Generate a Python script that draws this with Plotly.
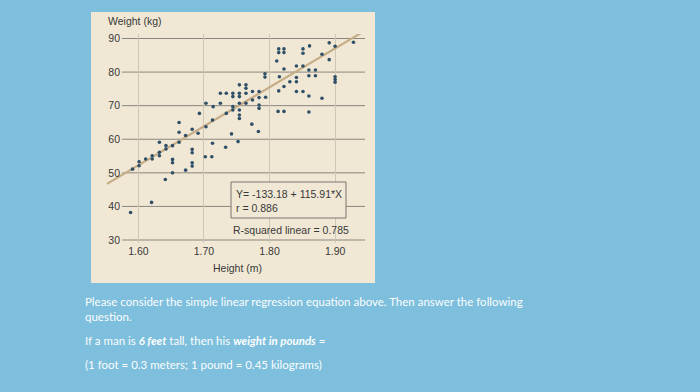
import plotly.graph_objects as go

# ---------------- data ----------------
height_m = [
    1.588, 1.620, 1.591, 1.601, 1.601, 1.611, 1.621, 1.621, 1.632, 1.632,
    1.632, 1.642, 1.642, 1.641, 1.652, 1.652, 1.652, 1.652, 1.662, 1.662,
    1.662, 1.672, 1.672, 1.682, 1.682, 1.682, 1.682, 1.682, 1.691, 1.693,
    1.703, 1.703, 1.702, 1.712, 1.713, 1.713, 1.714, 1.725, 1.725, 1.734,
    1.734, 1.733, 1.742, 1.744, 1.744, 1.744, 1.744, 1.754, 1.754, 1.754,
    1.754, 1.754, 1.754, 1.754, 1.752, 1.764, 1.764, 1.764, 1.764, 1.774,
    1.774, 1.773, 1.784, 1.784, 1.784, 1.784, 1.783, 1.794, 1.793, 1.793,
    1.814, 1.822, 1.814, 1.822, 1.811, 1.822, 1.815, 1.814, 1.822, 1.813,
    1.822, 1.831, 1.841, 1.841, 1.841, 1.841, 1.851, 1.851, 1.851, 1.851,
    1.861, 1.860, 1.860, 1.860, 1.860, 1.870, 1.870, 1.880, 1.880, 1.891,
    1.891, 1.900, 1.900, 1.900, 1.900, 1.928,
]
weight_kg = [
    38.2, 41.2, 51.1, 53.3, 52.1, 54.1, 55.1, 54.1, 59.1, 56.1,
    55.1, 58.1, 57.1, 48.0, 58.1, 54.0, 53.0, 50.0, 65.0, 62.1,
    59.1, 61.1, 50.8, 63.0, 57.0, 56.0, 53.0, 52.0, 61.8, 67.7,
    70.7, 63.7, 54.8, 54.8, 65.7, 58.8, 69.7, 70.7, 73.7, 73.7,
    67.7, 57.6, 61.6, 73.7, 72.7, 69.7, 68.7, 76.2, 73.7, 72.7,
    70.7, 68.7, 67.2, 66.2, 59.3, 76.2, 75.2, 73.7, 70.7, 74.2,
    71.7, 64.5, 74.2, 72.4, 70.2, 69.2, 62.3, 72.5, 79.5, 78.5,
    86.9, 86.9, 85.8, 85.8, 83.3, 80.9, 78.6, 74.4, 75.7, 68.3,
    68.3, 77.1, 81.8, 78.4, 77.1, 74.2, 86.9, 85.6, 81.8, 74.2,
    87.8, 80.6, 78.9, 72.9, 68.1, 80.6, 78.9, 85.3, 72.2, 88.7,
    83.7, 87.7, 78.6, 77.8, 77.0, 88.9,
]
intercept = -133.18
slope = 115.91
r_value = 0.886
r_squared = 0.785
fit_x = [1.552, 1.940]
fit_y = [intercept + slope * x for x in fit_x]

x_ticks = [1.60, 1.70, 1.80, 1.90]
x_tick_labels = ["1.60", "1.70", "1.80", "1.90"]
y_ticks = [30, 40, 50, 60, 70, 80, 90]
y_tick_labels = ["30", "40", "50", "60", "70", "80", "90"]

# ---------------- layout helpers (pixel -> paper) ----------------
L, R, T, B = 105, 365, 34, 243
W, H = R - L, B - T


def px(x):
    return (x - L) / W


def py(y):
    return (B - y) / H


FONT = "Liberation Sans"
BLUE = "#7dbfdc"
CARD = "#f0e8d5"
INK = "#383838"

fig = go.Figure()

fig.add_trace(go.Scatter(
    x=fit_x, y=fit_y, mode="lines",
    line=dict(color="#c6ad86", width=2.2),
    hoverinfo="skip", showlegend=False,
))
fig.add_trace(go.Scatter(
    x=height_m, y=weight_kg, mode="markers",
    marker=dict(color="#2f4f68", size=3.6, line=dict(width=0)),
    showlegend=False,
))

shapes = [
    dict(type="rect", xref="paper", yref="paper",
         x0=px(91), x1=px(375), y0=py(283), y1=py(12),
         fillcolor=CARD, line=dict(width=0), layer="below"),
]
for v in y_ticks:
    shapes.append(dict(type="line", xref="x", yref="y",
                       x0=1.575, x1=1.9456, y0=v, y1=v,
                       line=dict(color="#8a857d", width=1), layer="below"))
shapes.append(dict(type="rect", xref="paper", yref="paper",
                   x0=px(231), x1=px(346), y0=py(218), y1=py(182),
                   fillcolor=CARD, line=dict(color="#7a7670", width=1),
                   layer="above"))

annotations = [
    dict(text="Weight (kg)", x=px(106), y=py(21), xref="paper", yref="paper",
         xanchor="left", yanchor="middle", showarrow=False,
         font=dict(family=FONT, size=10.5, color=INK)),
    dict(text="Height (m)", x=px(237), y=py(268), xref="paper", yref="paper",
         xanchor="center", yanchor="middle", showarrow=False,
         font=dict(family=FONT, size=10.5, color=INK)),
    dict(text=f"Y= {intercept:.2f} + {slope:.2f}*X", x=px(234), y=py(194),
         xref="paper", yref="paper", xanchor="left", yanchor="middle",
         showarrow=False, font=dict(family=FONT, size=10.5, color=INK)),
    dict(text=f"r = {r_value:.3f}", x=px(234), y=py(208),
         xref="paper", yref="paper", xanchor="left", yanchor="middle",
         showarrow=False, font=dict(family=FONT, size=10.5, color=INK)),
    dict(text=f"R-squared linear = {r_squared:.3f}", x=px(231), y=py(230),
         xref="paper", yref="paper", xanchor="left", yanchor="middle",
         showarrow=False, font=dict(family=FONT, size=10.5, color=INK)),
]

body = [
    ("Please consider the simple linear regression equation above. Then answer the following", 301),
    ("question.", 316),
    ("If a man is <b><i>6 feet</i></b> tall, then his <b><i>weight in pounds</i></b> =", 340),
    ("(1 foot = 0.3 meters; 1 pound = 0.45 kilograms)", 364),
]
for txt, yy in body:
    annotations.append(dict(text=txt, x=px(83), y=py(yy), xref="paper", yref="paper",
                            xanchor="left", yanchor="middle", showarrow=False,
                            font=dict(family="Lato", size=11.5, color="#fbfdfe")))

fig.update_layout(
    width=700, height=392, autosize=False,
    margin=dict(l=L, r=700 - R, t=T, b=392 - B, pad=0),
    paper_bgcolor=BLUE, plot_bgcolor="rgba(0,0,0,0)",
    shapes=shapes, annotations=annotations,
    xaxis=dict(range=[1.549, 1.9456], tickvals=x_ticks, ticktext=x_tick_labels,
               showgrid=True, gridcolor="#cfc7b6", gridwidth=1,
               zeroline=False, showline=False, ticks="", ticklen=0,
               tickfont=dict(family=FONT, size=10.5, color=INK), fixedrange=True),
    yaxis=dict(range=[29.107, 91.34], tickvals=y_ticks, ticktext=y_tick_labels,
               ticklabelposition="outside", ticklabelstandoff=-16,
               showgrid=False, zeroline=False,
               showline=False, ticks="", ticklen=0,
               tickfont=dict(family=FONT, size=10.5, color=INK), fixedrange=True),
    showlegend=False,
)

fig.write_html(
    "out.html",
    config={"displayModeBar": False},
    post_script="document.body.style.margin='0';document.body.style.background='" + BLUE + "';",
)
